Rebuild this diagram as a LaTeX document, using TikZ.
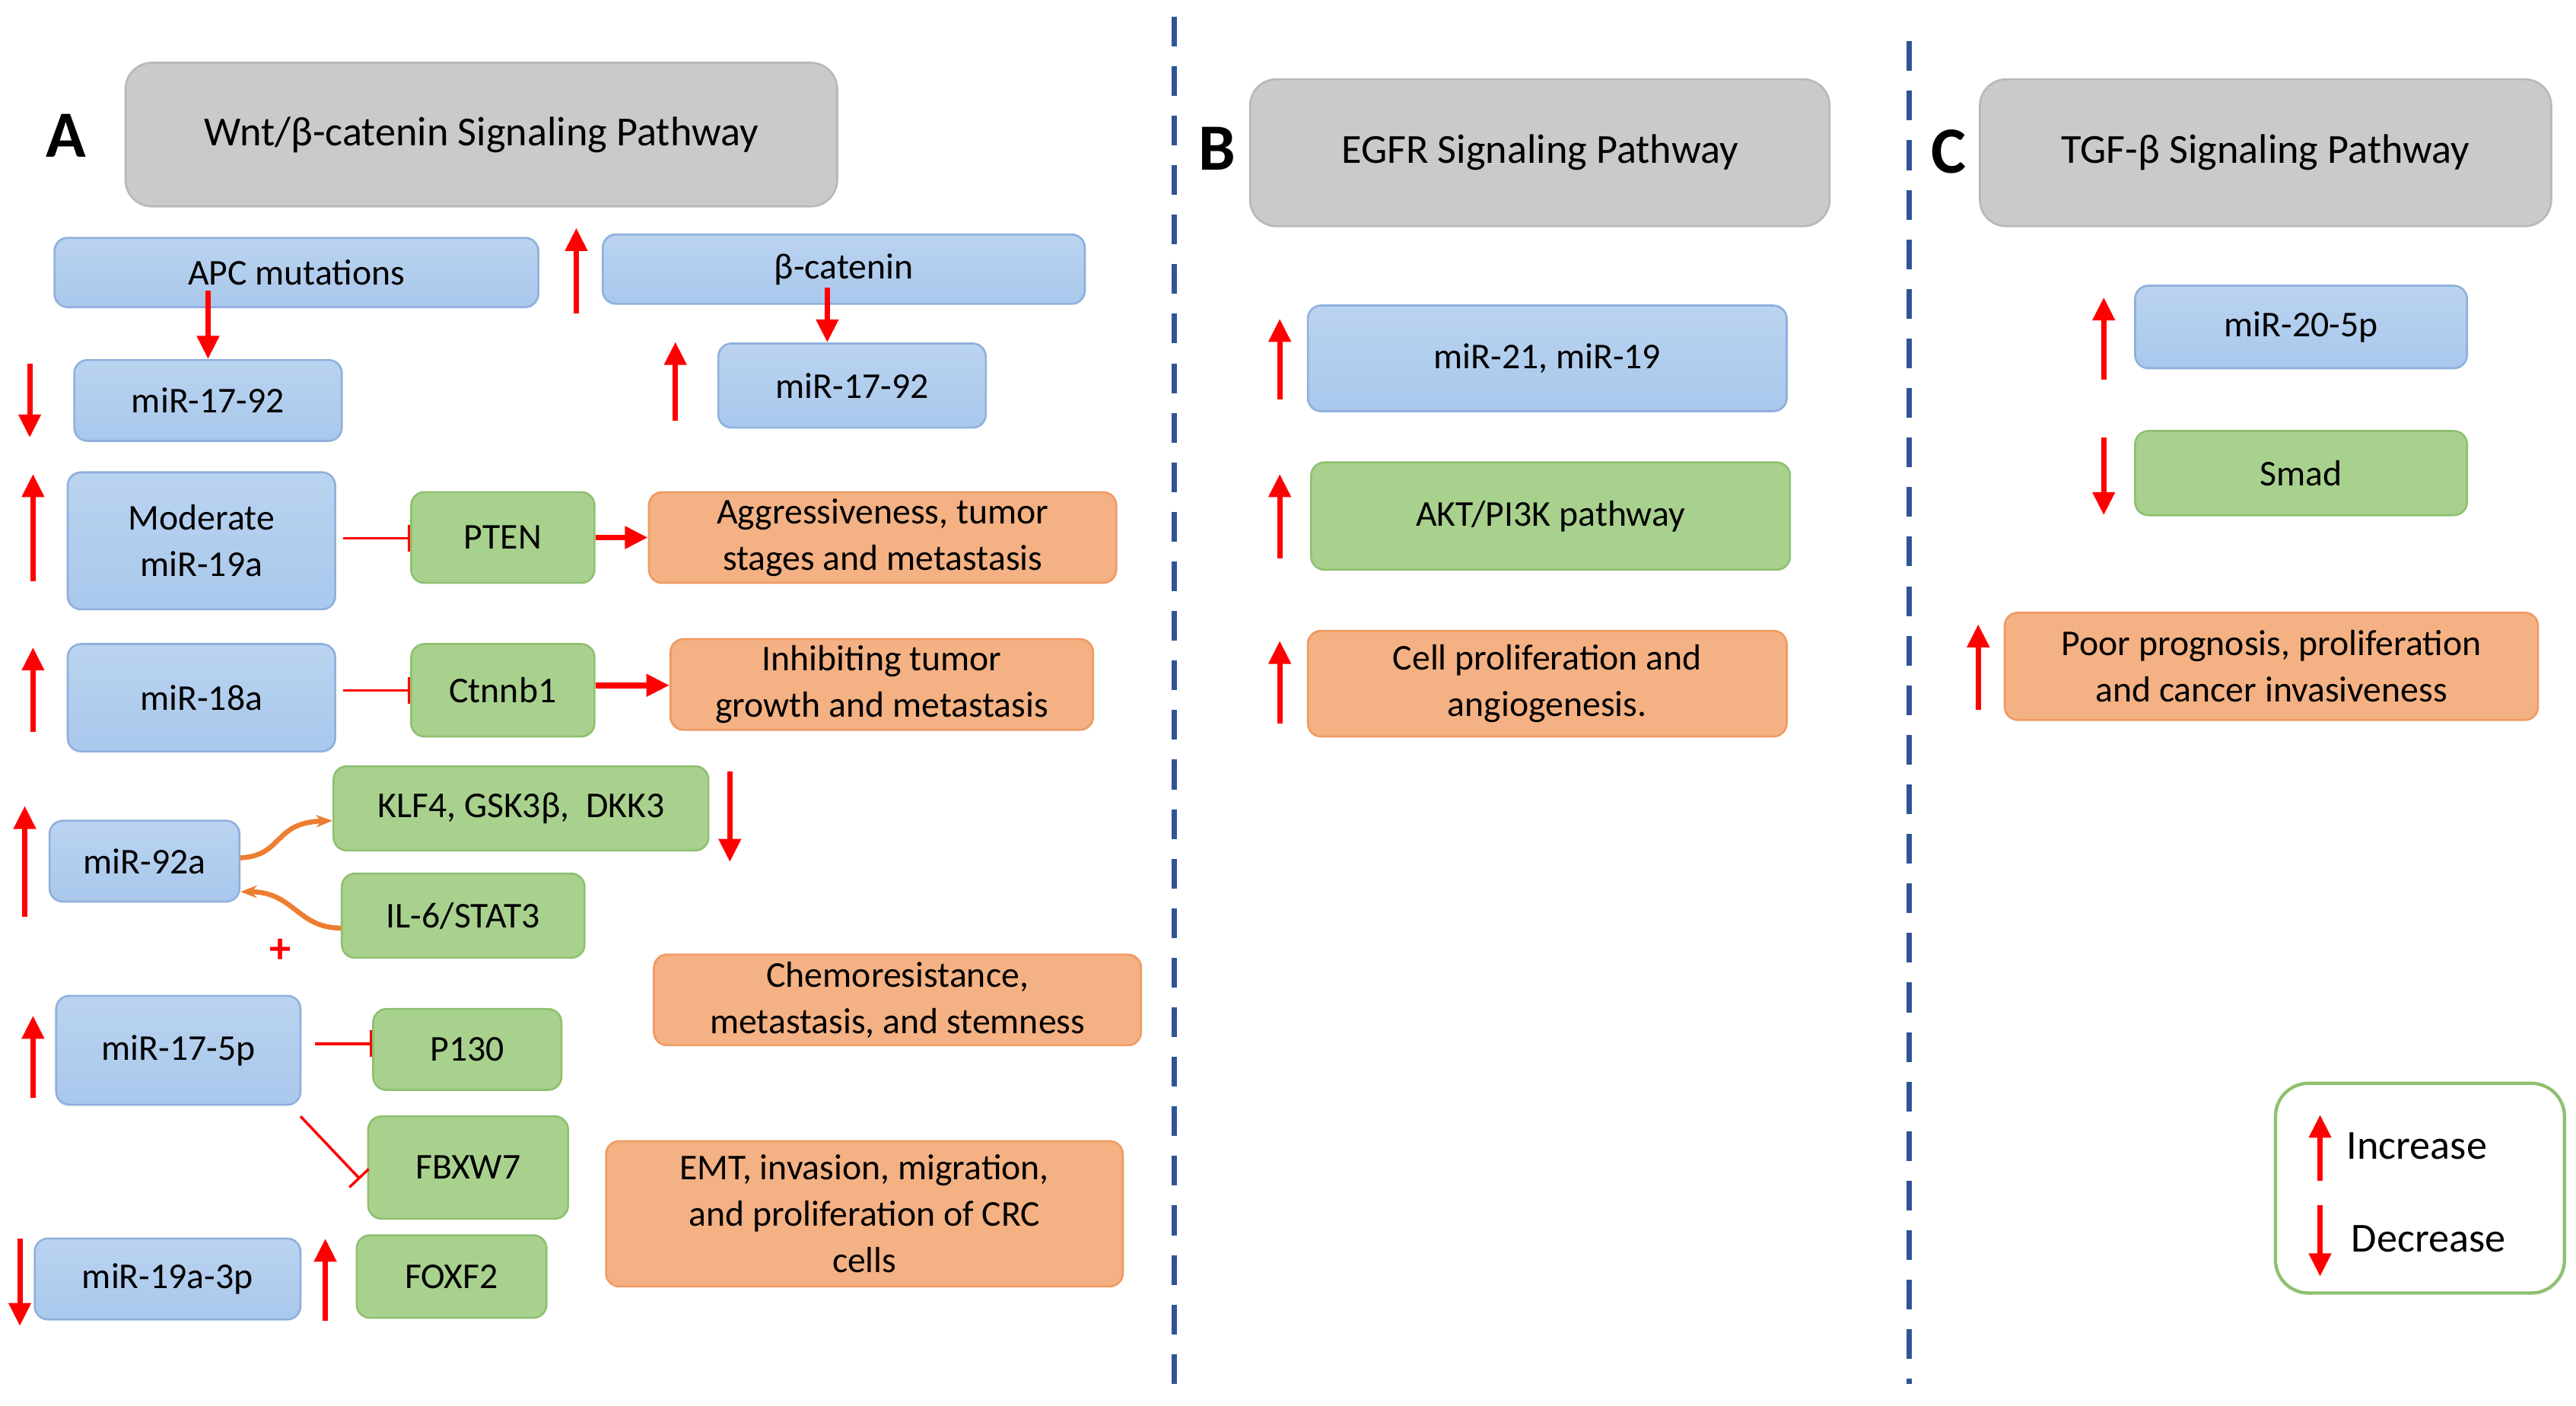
\documentclass[tikz,border=0pt]{standalone}
\usepackage{fontspec}
\setmainfont{Carlito}
\usetikzlibrary{arrows.meta,shadows}
\definecolor{bfill}{HTML}{A9C8EC}\definecolor{bdraw}{HTML}{8FB0DC}
\definecolor{gfill}{HTML}{A9D18E}\definecolor{gdraw}{HTML}{8FC070}
\definecolor{ofill}{HTML}{F4B183}\definecolor{odraw}{HTML}{F09A62}
\definecolor{tfill}{HTML}{CACACA}\definecolor{tdraw}{HTML}{B8B8B8}
\definecolor{dblue}{HTML}{2F5597}\definecolor{orarr}{HTML}{ED7D31}
\tikzset{
 box/.style={rounded corners=4pt,line width=0.6pt,align=center,font=\fontsize{11}{14}\selectfont,inner sep=1pt},
 blue/.style={box,fill=bfill,draw=bdraw,top color=bfill!80!white,bottom color=bfill},
 green/.style={box,fill=gfill,draw=gdraw},
 orange/.style={box,fill=ofill,draw=odraw},
 title/.style={box,fill=tfill,draw=tdraw,rounded corners=8pt,font=\fontsize{12.5}{15}\selectfont},
 up/.style={red,line width=1.6pt,-{Triangle[length=7pt,width=6.5pt]}},
 inh/.style={red,line width=0.8pt,-{Bar[width=8pt]}},
 oarr/.style={orarr,line width=1.5pt,-{Stealth[length=5pt]}},
 lab/.style={font=\fontsize{20}{24}\selectfont\bfseries}
}
\newcommand\bx[7]{\node[#2,minimum width={(#5-#3)*0.5pt},minimum height={(#6-#4)*0.5pt}] (#1) at ({(#3+#5)/2},{(#4+#6)/2}) {#7};}
\newcommand\ar[4]{\coordinate (#1a) at (#2,#3); \coordinate (#1b) at (#2,#4); \draw[up] (#1a) -- (#1b);}
\begin{document}
\begin{tikzpicture}[x=0.5pt,y=-0.5pt]
\useasboundingbox (0,0) rectangle (1560,851);
\bx{tA}{title}{76}{38}{507}{125}{Wnt/β-catenin Signaling Pathway}
\bx{tB}{title}{757}{48}{1108}{137}{EGFR Signaling Pathway}
\bx{tC}{title}{1199}{48}{1545}{137}{TGF-β Signaling Pathway}
\node[lab] (lA) at (40,82) {A};
\node[lab] (lB) at (737,90) {B};
\node[lab] (lC) at (1180,92) {C};
\coordinate (d1a) at (711,10); \coordinate (d1b) at (711,838);
\coordinate (d2a) at (1156,25); \coordinate (d2b) at (1156,838);
\draw[dblue,line width=1.6pt,dash pattern=on 9pt off 6pt] (d1a)--(d1b) (d2a)--(d2b);
\bx{apc}{blue}{33}{144}{326}{186}{APC mutations}
\bx{bcat}{blue}{365}{142}{657}{184}{β-catenin}
\bx{m1}{blue}{45}{218}{207}{267}{miR-17-92}
\bx{m2}{blue}{435}{208}{597}{259}{miR-17-92}
\bx{m19}{blue}{41}{286}{203}{369}{Moderate\\miR-19a}
\bx{pten}{green}{249}{298}{360}{353}{PTEN}
\bx{aggr}{orange}{393}{298}{676}{353}{Aggressiveness, tumor\\stages and metastasis}
\bx{m18}{blue}{41}{390}{203}{455}{miR-18a}
\bx{ctn}{green}{249}{390}{360}{446}{Ctnnb1}
\bx{inhib}{orange}{406}{387}{662}{442}{Inhibiting tumor\\growth and metastasis}
\bx{klf}{green}{202}{464}{429}{515}{KLF4, GSK3β,\ \ DKK3}
\bx{m92}{blue}{30}{497}{145}{546}{miR-92a}
\bx{il6}{green}{207}{529}{354}{580}{IL-6/STAT3}
\bx{chemo}{orange}{396}{578}{691}{633}{Chemoresistance,\\metastasis, and stemness}
\bx{m175}{blue}{34}{603}{182}{669}{miR-17-5p}
\bx{p130}{green}{226}{611}{340}{660}{P130}
\bx{fbx}{green}{223}{676}{344}{738}{FBXW7}
\bx{emt}{orange}{367}{691}{680}{779}{EMT, invasion, migration,\\and proliferation of CRC\\cells}
\bx{m193}{blue}{21}{750}{182}{799}{miR-19a-3p}
\bx{foxf}{green}{216}{748}{331}{798}{FOXF2}
\bx{m21}{blue}{792}{185}{1082}{249}{miR-21, miR-19}
\bx{akt}{green}{794}{280}{1084}{345}{AKT/PI3K pathway}
\bx{cell}{orange}{792}{382}{1082}{446}{Cell proliferation and\\angiogenesis.}
\bx{m20}{blue}{1293}{173}{1494}{223}{miR-20-5p}
\bx{smad}{green}{1293}{261}{1494}{312}{Smad}
\bx{poor}{orange}{1214}{371}{1537}{436}{Poor prognosis, proliferation\\and cancer invasiveness}
\bx{leg}{box,draw=gdraw,line width=1pt,rounded corners=10pt}{1378}{656}{1553}{783}{}
\node[font=\fontsize{12.5}{15}\selectfont,anchor=west] (li) at (1414,694) {Increase};
\node[font=\fontsize{12.5}{15}\selectfont,anchor=west] (ld) at (1417,750) {Decrease};
% arrows
\coordinate (apcs) at (126,176); \coordinate (bcs) at (501,174);
\draw[up] (apcs) -- (m1.north -| apcs);
\draw[up] (bcs) -- (m2.north -| bcs);
\ar{a1}{349}{190}{138}
\ar{a2}{18}{220}{265}
\ar{a3}{409}{255}{207}
\ar{a4}{20}{352}{287}
\ar{a5}{20}{443}{392}
\ar{a6}{15}{555}{488}
\ar{a7}{442}{467}{522}
\ar{a8}{20}{665}{615}
\ar{a9}{12}{750}{803}
\ar{a10}{197}{800}{750}
\ar{b1}{775}{242}{193}
\ar{b2}{775}{338}{287}
\ar{b3}{775}{438}{388}
\ar{c1}{1274}{230}{180}
\ar{c2}{1274}{265}{312}
\ar{c3}{1198}{430}{378}
\ar{l1}{1405}{715}{675}
\ar{l2}{1405}{730}{773}
\draw[up,line width=1.8pt] (pten.east) -- (aggr.west);
\draw[up,line width=1.8pt] (ctn.east |- 0,415) -- (inhib.west |- 0,415);
% inhibitions
\draw[inh] (m19.east |- 0,326) ++(4,0) -- (pten.west |- 0,326);
\draw[inh] (m18.east |- 0,418) ++(4,0) -- (ctn.west |- 0,418);
\draw[inh] (m175.east |- 0,632) ++(8,0) -- (p130.west |- 0,632);
\coordinate (f1) at (182,676); \coordinate (f2) at (218,714);
\draw[inh] (f1) -- (f2);
% orange curves
\draw[oarr] (m92.east) ++(0,-2) .. controls (172,518) and (165,498) .. (klf.west |- 0,497);
\draw[oarr] (il6.west |- 0,562) .. controls (180,562) and (178,540) .. (m92.east |- 0,540);
\node[red,font=\fontsize{13}{15}\selectfont\bfseries] (plus) at (170,576) {+};
\end{tikzpicture}
\end{document}
